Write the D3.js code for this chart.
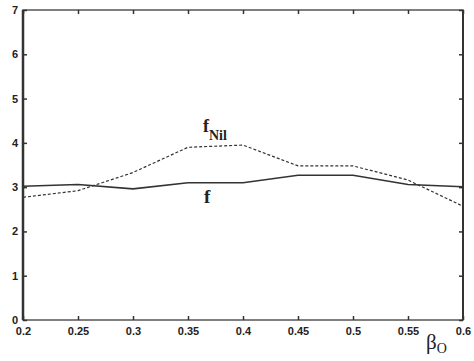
<!DOCTYPE html>
<html><head><meta charset="utf-8">
<script src="https://cdn.jsdelivr.net/npm/d3@7"></script>
<style>body{margin:0;background:#fff}svg{display:block}</style>
</head><body>
<svg id="c" width="474" height="361"></svg>
<script>
const betaValues = [0.2, 0.25, 0.3, 0.35, 0.4, 0.45, 0.5, 0.55, 0.6];
const fValues    = [3.02, 3.06, 2.96, 3.10, 3.10, 3.27, 3.27, 3.06, 3.01];
const fNilValues = [2.77, 2.92, 3.33, 3.90, 3.95, 3.48, 3.48, 3.16, 2.57];
const xTickLabels = ["0.2","0.25","0.3","0.35","0.4","0.45","0.5","0.55","0.6"];
const yTickLabels = ["0","1","2","3","4","5","6","7"];

const svg = d3.select("#c");
const L = 23, R = 463, T = 10, B = 320;
const x = d3.scaleLinear().domain([0.2, 0.6]).range([L, R]);
const y = d3.scaleLinear().domain([0, 7]).range([B, T]);
const col = "#333";

// frame
svg.append("rect").attr("x", L).attr("y", T).attr("width", R - L).attr("height", B - T)
  .attr("fill", "none").attr("stroke", "#555").attr("stroke-width", 1.5);
svg.append("line").attr("x1", L).attr("x2", L).attr("y1", T).attr("y2", B)
  .attr("stroke", col).attr("stroke-width", 2.5);
svg.append("line").attr("x1", R).attr("x2", R).attr("y1", T).attr("y2", B)
  .attr("stroke", col).attr("stroke-width", 2);

const tickFont = "Liberation Sans, Arial, sans-serif";

// bottom axis
const xb = d3.axisBottom(x).tickValues(betaValues).tickSize(-4).tickPadding(7)
  .tickFormat((d, i) => xTickLabels[i]);
const gx = svg.append("g").attr("transform", `translate(0,${B})`).call(xb);
// top axis
const xt = d3.axisTop(x).tickValues(betaValues).tickSize(-4).tickFormat("");
const gxt = svg.append("g").attr("transform", `translate(0,${T})`).call(xt);
// left axis
const yl = d3.axisLeft(y).tickValues(d3.range(0, 8)).tickSize(-4).tickPadding(5)
  .tickFormat((d, i) => yTickLabels[i]);
const gy = svg.append("g").attr("transform", `translate(${L},0)`).call(yl);
// right axis
const yr = d3.axisRight(y).tickValues(d3.range(0, 8)).tickSize(-4).tickFormat("");
const gyr = svg.append("g").attr("transform", `translate(${R},0)`).call(yr);

[gx, gxt, gy, gyr].forEach(g => {
  g.select(".domain").remove();
  g.selectAll(".tick line").attr("stroke", col).attr("stroke-width", 1.5);
  g.selectAll("text").attr("fill", "#222").style("font-family", tickFont)
    .style("font-size", "11px").style("font-weight", "bold");
});

// lines
const line = vals => d3.line().x((d, i) => x(betaValues[i])).y(d => y(d))(vals);
svg.append("path").attr("d", line(fValues)).attr("fill", "none")
  .attr("stroke", "#333").attr("stroke-width", 1.6);
svg.append("path").attr("d", line(fNilValues)).attr("fill", "none")
  .attr("stroke", "#333").attr("stroke-width", 1.2).attr("stroke-dasharray", "3,2");

// labels
const serif = "Liberation Serif, Times New Roman, serif";
const t1 = svg.append("text").attr("x", 203).attr("y", 132)
  .style("font-family", serif).style("font-weight", "bold").style("font-size", "18px").attr("fill", "#222");
t1.append("tspan").text("f");
t1.append("tspan").attr("dy", 8).style("font-size", "14px").text("Nil");

svg.append("text").attr("x", 204).attr("y", 203).text("f")
  .style("font-family", serif).style("font-weight", "bold").style("font-size", "19px").attr("fill", "#222");

const t3 = svg.append("text").attr("x", 426).attr("y", 349)
  .style("font-family", serif).style("font-size", "21px").attr("fill", "#222");
t3.append("tspan").text("β");
t3.append("tspan").attr("dy", 4).style("font-size", "14px").text("O");
</script>
</body></html>
